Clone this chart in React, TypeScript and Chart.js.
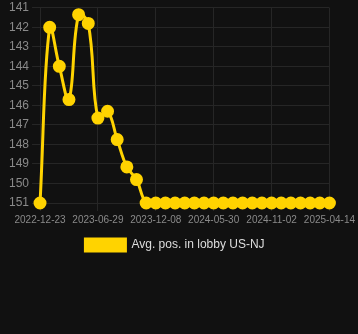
import React, { useEffect, useRef } from "react";
import { Chart, registerables } from "chart.js";

Chart.register(...registerables);

const labels: string[] = [
  "2022-12-23", "2023-01-25", "2023-02-27", "2023-03-29", "2023-04-30", "2023-05-30",
  "2023-06-29", "2023-07-27", "2023-08-24", "2023-09-20", "2023-10-18", "2023-11-13",
  "2023-12-08", "2024-01-06", "2024-02-04", "2024-03-04", "2024-04-02", "2024-05-01",
  "2024-05-30", "2024-06-25", "2024-07-21", "2024-08-16", "2024-09-11", "2024-10-07",
  "2024-11-02", "2024-11-29", "2024-12-26", "2025-01-22", "2025-02-18", "2025-03-17",
  "2025-04-14",
];

const avgPos: number[] = [
  151, 142, 144, 145.7, 141.35, 141.8, 146.65, 146.3, 147.75, 149.15, 149.8,
  151, 151, 151, 151, 151, 151, 151, 151, 151, 151, 151, 151, 151, 151, 151,
  151, 151, 151, 151, 151,
];

const seriesName = "Avg. pos. in lobby US-NJ";
const yTicks = { min: 141, max: 151, step: 1 };

const GOLD = "#FFD300";
const GRID = "#262626";
const FONT = "'Liberation Sans', Arial, sans-serif";

const shiftLegend = {
  id: "shiftLegend",
  afterLayout(chart: any) {
    const l = chart.legend;
    if (l) {
      l.left -= 5;
      l.right -= 5;
    }
  },
};

export default function App() {
  const ref = useRef<HTMLCanvasElement | null>(null);

  useEffect(() => {
    document.body.style.margin = "0";
    document.body.style.background = "#111111";
    const canvas = ref.current;
    if (!canvas) return;
    const chart = new Chart(canvas, {
      type: "line",
      data: {
        labels,
        datasets: [
          {
            label: seriesName,
            data: avgPos,
            borderColor: GOLD,
            backgroundColor: GOLD,
            pointBackgroundColor: GOLD,
            pointBorderColor: GOLD,
            borderWidth: 3,
            pointRadius: 5,
            tension: 0.4,
            clip: false,
          },
        ],
      },
      options: {
        animation: false,
        responsive: true,
        maintainAspectRatio: false,
        layout: { autoPadding: false, padding: { left: 6, right: 4, top: 0, bottom: 0 } },
        scales: {
          x: {
            ticks: {
              autoSkip: false,
              maxRotation: 0,
              color: "#8a8a8a",
              font: { family: FONT, size: 10 },
              callback: (_v: any, i: number) => (i % 6 === 0 ? labels[i] : ""),
            },
            grid: {
              color: (ctx: any) => (ctx.index % 6 === 0 ? GRID : "rgba(0,0,0,0)"),
            },
            border: { display: false },
          },
          y: {
            reverse: true,
            min: yTicks.min,
            max: yTicks.max,
            ticks: {
              stepSize: yTicks.step,
              color: "#8a8a8a",
              font: { family: FONT, size: 12, lineHeight: 0.8 },
            },
            grid: { color: GRID },
            border: { display: false },
          },
        },
        plugins: {
          legend: {
            position: "bottom",
            labels: {
              color: "#dddddd",
              font: { family: FONT, size: 12 },
              boxWidth: 40,
              boxHeight: 12,
            },
          },
          tooltip: { enabled: false },
        },
      },
      plugins: [shiftLegend],
    });
    return () => chart.destroy();
  }, []);

  return (
    <div style={{ width: 358, height: 261, background: "#111111" }}>
      <canvas ref={ref} />
    </div>
  );
}
